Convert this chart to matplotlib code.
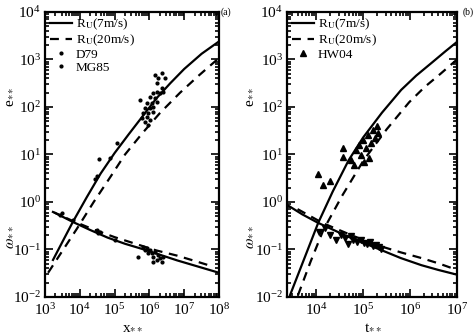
import numpy as np
import matplotlib
matplotlib.use("Agg")
import matplotlib.pyplot as plt
from matplotlib.ticker import LogLocator, NullFormatter, LogFormatterSciNotation

plt.rcParams['font.family'] = ['Liberation Serif', 'DejaVu Serif']
plt.rcParams['mathtext.fontset'] = 'stix'

# --- panel (a): model curves vs x**, values given as log10 ---
a_e7_x = [3.23, 3.5, 3.8, 4.2, 4.6, 5.0, 5.4, 5.8, 6.2, 6.6, 7.0, 7.5, 8.0]
a_e7_y = [-1.22, -0.84, -0.42, 0.1, 0.6, 1.03, 1.42, 1.8, 2.18, 2.5, 2.8, 3.12, 3.38]
a_e20_x = [3.09, 3.5, 3.92, 4.4, 4.9, 5.3, 5.8, 6.3, 6.88, 7.4, 7.95]
a_e20_y = [-1.49, -1.03, -0.56, 0.0, 0.55, 1.0, 1.45, 1.87, 2.3, 2.65, 3.0]
a_w7_x = [3.29, 3.8, 4.3, 4.8, 5.3, 5.8, 6.3, 6.8, 7.4, 8.0]
a_w7_y = [-0.23, -0.42, -0.59, -0.75, -0.88, -0.99, -1.11, -1.23, -1.36, -1.49]
a_w20_x = [3.2, 3.8, 4.4, 5.0, 5.6, 6.2, 6.8, 7.3, 7.74]
a_w20_y = [-0.2, -0.40, -0.58, -0.74, -0.88, -1.02, -1.13, -1.24, -1.34]

# D79 / MG85 observations (log10)
d79_x = [4.55, 4.87, 5.07, 4.44, 4.5, 3.43, 3.49, 3.8, 4.49, 4.52, 4.58, 5.01]
d79_y = [0.9, 0.93, 1.24, 0.48, 0.55, -0.27, -0.23, -0.38, -0.59, -0.65, -0.63, -0.8]
mg85_x = [5.73, 6.16, 6.25, 6.36, 6.22, 6.45, 6.1, 6.22, 6.3, 6.02, 6.16, 5.93, 6.07,
          6.22, 5.87, 6.02, 6.1, 5.82, 5.96, 6.1, 5.79, 5.93, 5.87, 6.02, 5.96, 6.36,
          6.39,
          5.67, 5.82, 5.93, 6.02, 6.07, 6.1, 6.16, 6.22, 6.25, 6.3, 6.36, 6.1, 5.96,
          5.87, 6.39]
mg85_y = [2.15, 2.67, 2.61, 2.72, 2.51, 2.61, 2.29, 2.32, 2.3, 2.21, 2.19, 2.08, 2.08,
          2.1, 1.98, 1.98, 2.0, 1.87, 1.87, 1.9, 1.77, 1.79, 1.68, 1.73, 1.62, 2.4,
          2.32,
          -1.16, -0.95, -0.97, -1.01, -1.07, -1.16, -1.05, -1.22, -1.12, -1.18, -1.26,
          -1.26, -1.07, -1.01, -1.16]

# --- panel (b): model curves vs t** ---
b_e7_x = [3.44, 3.74, 4.04, 4.35, 4.69, 5.0, 5.4, 5.81, 6.13, 6.46, 6.75, 7.0]
b_e7_y = [-1.96, -1.2, -0.44, 0.22, 0.88, 1.36, 1.88, 2.36, 2.66, 2.93, 3.17, 3.37]
b_e20_x = [3.61, 3.88, 4.15, 4.55, 5.01, 5.5, 5.98, 6.31, 6.65, 7.0]
b_e20_y = [-1.96, -1.25, -0.59, 0.13, 0.88, 1.53, 2.1, 2.42, 2.7, 3.0]
b_w7_x = [3.375, 3.7, 4.04, 4.7, 5.38, 5.8, 6.24, 6.6, 7.0]
b_w7_y = [-0.06, -0.26, -0.44, -0.74, -1.01, -1.18, -1.33, -1.43, -1.53]
b_w20_x = [3.6, 4.15, 4.8, 5.4, 5.8, 6.24, 6.6, 7.0]
b_w20_y = [-0.15, -0.45, -0.72, -0.94, -1.06, -1.18, -1.29, -1.43]

# HW04 observations (log10)
hw_e_x = [4.04, 4.3, 4.15, 4.56, 4.56, 4.73, 4.84, 4.91, 4.95, 4.99, 5.06, 5.1, 5.16,
          5.21, 5.25, 5.29, 5.32, 5.12, 5.01, 4.8]
hw_e_y = [0.59, 0.44, 0.36, 0.95, 1.14, 0.88, 1.09, 1.2, 0.99, 1.31, 1.14, 1.41, 1.24,
          1.52, 1.35, 1.6, 1.45, 0.93, 0.84, 0.78]
hw_w_x = [4.06, 4.19, 4.3, 4.52, 4.62, 4.73, 4.78, 4.86, 4.95, 5.01, 5.08, 5.14, 5.21,
          5.27, 5.34, 5.38, 4.43, 4.67]
hw_w_y = [-0.63, -0.55, -0.69, -0.69, -0.76, -0.72, -0.8, -0.84, -0.8, -0.86, -0.88,
          -0.84, -0.93, -0.91, -0.95, -0.99, -0.8, -0.88]

y_ticks = [1e-2, 1e-1, 1e0, 1e1, 1e2, 1e3, 1e4]
a_x_ticks = [1e3, 1e4, 1e5, 1e6, 1e7, 1e8]
b_x_ticks = [1e4, 1e5, 1e6, 1e7]


def p(v):
    return 10 ** np.asarray(v)


def estilo_ejes(ax, xlim, xticks):
    ax.set_xscale('log')
    ax.set_yscale('log')
    for s in ax.spines.values():
        s.set_linewidth(1.6)
    ax.set_xticks(xticks)
    ax.set_yticks(y_ticks)
    ax.xaxis.set_major_formatter(LogFormatterSciNotation())
    ax.yaxis.set_major_formatter(LogFormatterSciNotation())
    ax.xaxis.set_minor_locator(LogLocator(base=10, subs=np.arange(2, 10), numticks=12))
    ax.yaxis.set_minor_locator(LogLocator(base=10, subs=np.arange(2, 10), numticks=12))
    ax.xaxis.set_minor_formatter(NullFormatter())
    ax.yaxis.set_minor_formatter(NullFormatter())
    ax.tick_params(which='both', direction='in', top=True, right=True,
                   labelsize=11, width=1.2)
    ax.tick_params(axis='x', which='major', pad=4)
    ax.tick_params(axis='y', which='major', pad=3)
    ax.tick_params(which='major', length=6)
    ax.tick_params(which='minor', length=3)
    ax.set_xlim(*xlim)
    ax.set_ylim(1e-2, 1e4)


def leyenda(ax):
    ax.legend(loc='upper left', frameon=False, fontsize=9.5, handlelength=1.7,
              handletextpad=0.3, labelspacing=0.05, borderaxespad=0.15,
              borderpad=0.2)


fig = plt.figure(figsize=(4.74, 3.34), dpi=100)
ax1 = fig.add_axes([0.0949, 0.1108, 0.3671, 0.8533])
ax2 = fig.add_axes([0.6055, 0.1108, 0.3586, 0.8533])

lw = 1.6
dash = (0, (4, 3))

# panel (a)
ax1.plot(p(a_e7_x), p(a_e7_y), 'k-', lw=lw, label=r'R$_\mathrm{U}$(7m/s)')
ax1.plot(p(a_e20_x), p(a_e20_y), 'k', ls=dash, lw=lw, label=r'R$_\mathrm{U}$(20m/s)')
ax1.plot(p(a_w7_x), p(a_w7_y), 'k-', lw=lw)
ax1.plot(p(a_w20_x), p(a_w20_y), 'k', ls=dash, lw=lw)
ax1.plot(p(d79_x), p(d79_y), 'k.', ms=4, label='D79')
ax1.plot(p(mg85_x), p(mg85_y), 'k.', ms=4, label='MG85')
estilo_ejes(ax1, (1e3, 1e8), a_x_ticks)
leyenda(ax1)

# panel (b)
ax2.plot(p(b_e7_x), p(b_e7_y), 'k-', lw=lw, label=r'R$_\mathrm{U}$(7m/s)')
ax2.plot(p(b_e20_x), p(b_e20_y), 'k', ls=dash, lw=lw, label=r'R$_\mathrm{U}$(20m/s)')
ax2.plot(p(b_w7_x), p(b_w7_y), 'k-', lw=lw)
ax2.plot(p(b_w20_x), p(b_w20_y), 'k', ls=dash, lw=lw)
ax2.plot(p(hw_e_x), p(hw_e_y), 'k^', ms=5, label='HW04')
ax2.plot(p(hw_w_x), p(hw_w_y), 'kv', ms=4)
estilo_ejes(ax2, (10 ** 3.375, 1e7), b_x_ticks)
leyenda(ax2)

# etiquetas de ejes
for xx in (0.018, 0.525):
    fig.text(xx, 0.71, r'e$_{**}$', rotation=90, ha='center', va='center', fontsize=11)
    fig.text(xx, 0.29, r'$\omega_{**}$', rotation=90, ha='center', va='center', fontsize=11)
fig.text(0.28, 0.003, r'x$_{**}$', ha='center', va='bottom', fontsize=11)
fig.text(0.787, 0.003, r't$_{**}$', ha='center', va='bottom', fontsize=11)
fig.text(0.477, 0.962, '(a)', ha='center', va='center', fontsize=7)
fig.text(0.987, 0.962, '(b)', ha='center', va='center', fontsize=7)

fig.savefig('out.png', dpi=100)
